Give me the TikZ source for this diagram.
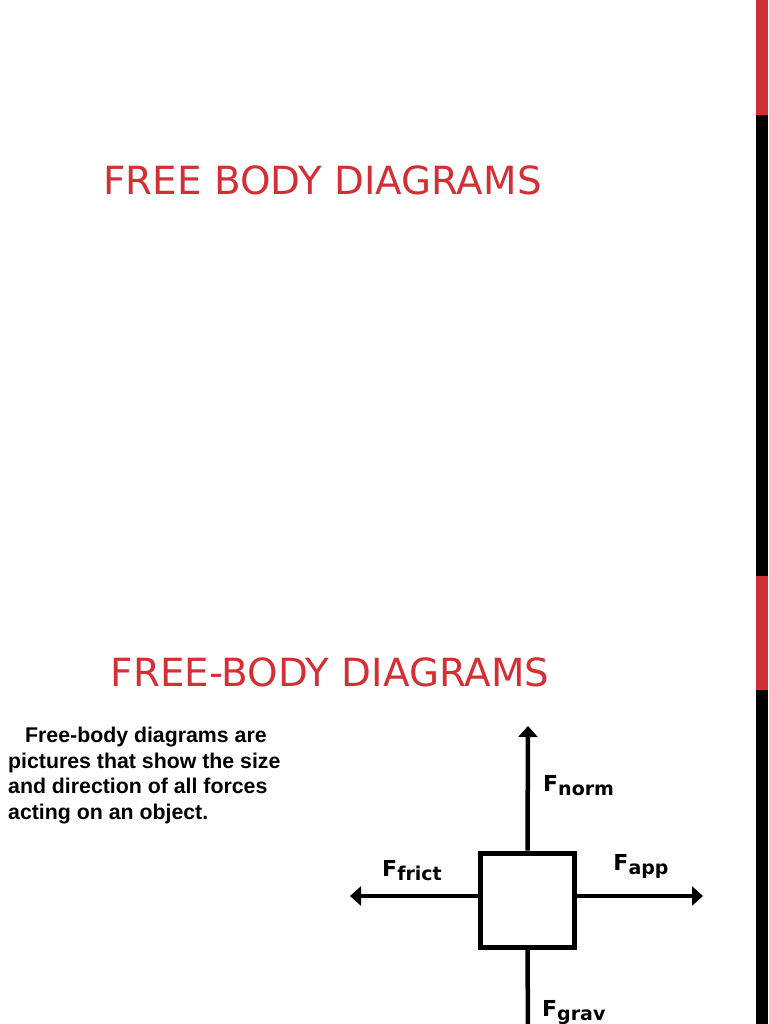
\documentclass[tikz,border=0pt]{standalone}
\usepackage{fontspec}
\setmainfont{Liberation Sans}
\newfontfamily\titlefont{DejaVu Sans}
\usetikzlibrary{arrows.meta}
\definecolor{slidered}{RGB}{211,47,52}
\tikzset{
	,x = 1pt, y = -1pt
	,mytitle/.style   = {text=slidered, font=\titlefont\fontsize{38.8}{46}\selectfont, inner sep=0}
	,mybody/.style    = {align=left, anchor=north west, inner sep=0, font=\bfseries\fontsize{21.3}{25.5}\selectfont}
	,myblock/.style   = {draw=black, line width=5pt, fill=white, minimum width=94pt, minimum height=94pt, inner sep=0}
	,mylabel/.style   = {inner sep=0, font=\titlefont\bfseries}
	,forcearrow/.style = {-{Triangle[length=11pt, width=19pt]}, line width=4.5pt}
	,forceline/.style  = {-, line width=4.5pt}
}
\newcommand{\force}[1]{{\fontsize{22}{22}\selectfont F}{\fontsize{19}{19}\selectfont\raisebox{-4pt}{#1}}}

\begin{document}
\begin{tikzpicture}
		\useasboundingbox (0,0) rectangle (768,1024);
		% side bar
		\fill[slidered] (756,0)   rectangle (768,115);
		\fill[black]    (756,115) rectangle (768,576);
		\fill[slidered] (756,576) rectangle (768,690);
		\fill[black]    (756,690) rectangle (768,1024);
		% titles
		\node[mytitle] at (322.5, 180) (title1) {FREE BODY DIAGRAMS};
		\node[mytitle] at (330, 672) (title2) {FREE-BODY DIAGRAMS};
		\node[mybody] at (8, 727) (intro) {\hspace*{17pt}Free-body diagrams are\\pictures that show the size\\and direction of all forces\\acting on an object.};
		% free body diagram
		\node[myblock] at (527.5, 900) (block) {};
		\coordinate (up)    at (528, 726);
		\coordinate (left)  at (350, 896);
		\coordinate (right) at (703, 896);
		\coordinate (down)  at (528, 1030);
		\draw[forcearrow] (block.north) -- (up);
		\draw[forcearrow] (block.west |- left) -- (left);
		\draw[forcearrow] (block.east |- right) -- (right);
		\draw[forceline]  (block.south) -- (down);
		\node[mylabel, anchor=west] at (543, 786)  (fnorm)  {\force{norm}};
		\node[mylabel]              at (412, 871)  (ffrict) {\force{frict}};
		\node[mylabel]              at (641, 866)  (fapp)   {\force{app}};
		\node[mylabel, anchor=west] at (542, 1013) (fgrav)  {\force{grav}};
	\end{tikzpicture}
\end{document}
